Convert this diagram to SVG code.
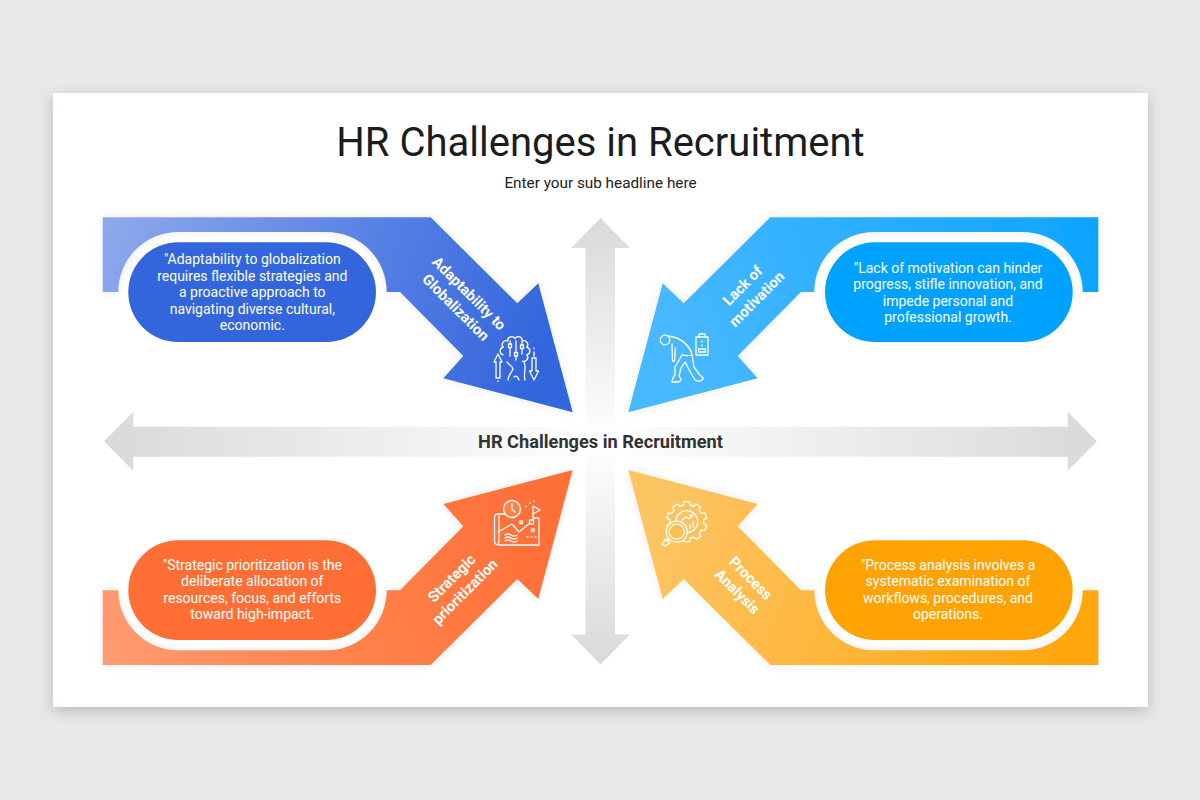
<svg xmlns="http://www.w3.org/2000/svg" width="1200" height="800" viewBox="0 0 1200 800">
<style>
text{font-family:Roboto,"Liberation Sans",Arial,sans-serif;text-anchor:middle}
.title{font-size:40px;fill:#1c1c1e}
.sub{font-size:15.300px;fill:#222}
.center{font-size:18.200px;font-weight:700;fill:#333}
.body{font-size:14px;fill:#fff}
.lab{font-size:14.800px;font-weight:700;fill:#fff}
.ic{fill:none;stroke:#fff;stroke-width:1.3;stroke-linecap:round;stroke-linejoin:round}
</style>
<defs>
<filter id="card" x="-5%" y="-5%" width="110%" height="112%"><feDropShadow dx="0" dy="4" stdDeviation="7" flood-color="#000" flood-opacity=".2"/></filter>
<filter id="soft" x="-10%" y="-10%" width="120%" height="120%"><feDropShadow dx="0" dy="0" stdDeviation="5" flood-color="#000" flood-opacity=".08"/></filter>
<linearGradient id="gBlue" gradientUnits="userSpaceOnUse" x1="102" y1="217" x2="530" y2="380"><stop offset="0" stop-color="#8fa9ec"/><stop offset=".55" stop-color="#5a82e4"/><stop offset="1" stop-color="#3366dd"/></linearGradient>
<linearGradient id="gSky" gradientUnits="userSpaceOnUse" x1="102" y1="217" x2="530" y2="380"><stop offset="0" stop-color="#0ca4ff"/><stop offset="1" stop-color="#4ab9ff"/></linearGradient>
<linearGradient id="gOrange" gradientUnits="userSpaceOnUse" x1="102" y1="217" x2="530" y2="380"><stop offset="0" stop-color="#ff9c72"/><stop offset=".6" stop-color="#ff7f48"/><stop offset="1" stop-color="#ff7038"/></linearGradient>
<linearGradient id="gYellow" gradientUnits="userSpaceOnUse" x1="102" y1="217" x2="530" y2="380"><stop offset="0" stop-color="#ffa408"/><stop offset="1" stop-color="#fdc462"/></linearGradient>
<linearGradient id="gH" x1="0" x2="1" y1="0" y2="0"><stop offset="0" stop-color="#d9d9d9"/><stop offset=".5" stop-color="#fff"/><stop offset="1" stop-color="#d9d9d9"/></linearGradient>
<linearGradient id="gV" x1="0" x2="0" y1="0" y2="1"><stop offset="0" stop-color="#d9d9d9"/><stop offset=".5" stop-color="#fff"/><stop offset="1" stop-color="#d9d9d9"/></linearGradient>
<path id="arrow" d="M102.700 217.300H430.700L517.300 303.300L538.300 283.300L572.700 412.300L443.300 378.300L463.300 356L400 292H386.700A60 60 0 0 0 326.700 232H178.300A60 60 0 0 0 118.300 292H102.700Z"/>
<path id="tooth" d="M-3.500-16.500L-2.800-20H2.800L3.500-16.500A16.870 16.870 0 0 1 6.870-15.410"/>
<path id="bump" d="M0-12.500A4 4 0 0 1 7.350-10.100"/>
</defs>
<rect width="1200" height="800" fill="#e9e7e8"/>
<rect x="53" y="93" width="1095" height="614" fill="#fff" filter="url(#card)"/>
<text class="title" x="600.500" y="156">HR Challenges in Recruitment</text>
<text class="sub" x="600.500" y="187.500">Enter your sub headline here</text>

<g id="connectors">
<path fill="url(#gH)" d="M104 441.200L133.300 411.700V426.700H1067.700V411.700L1097 441.200L1067.700 470.700V456.700H133.300V470.700Z"/>
<path fill="url(#gV)" d="M600.500 218L630 248H615V634.400H630L600.500 664.400L571 634.400H585.500V248H571Z"/>
</g>
<text class="center" x="600.500" y="447.500">HR Challenges in Recruitment</text>

<g id="node-adaptability">
<g filter="url(#soft)"><use href="#arrow" fill="url(#gBlue)"/></g>
<rect x="128.300" y="242.300" width="247.700" height="99.700" rx="49.800" fill="#3366dd"/>
<text class="body"><tspan x="252.300" y="264">"Adaptability to globalization</tspan><tspan x="252.300" y="280.500">requires flexible strategies and</tspan><tspan x="252.300" y="297">a proactive approach to</tspan><tspan x="252.300" y="313.500">navigating diverse cultural,</tspan><tspan x="252.300" y="330">economic.</tspan></text>
<text class="lab" transform="translate(469 293.500) rotate(45)" y="5">Adaptability to</text>
<text class="lab" transform="translate(455.700 307.500) rotate(45)" y="5">Globalization</text>
<g class="ic" id="icon-adapt">
<g transform="translate(515 351)"><use href="#bump"/><use href="#bump" transform="rotate(36)"/><use href="#bump" transform="rotate(72)"/><use href="#bump" transform="rotate(108)"/><use href="#bump" transform="rotate(252)"/><use href="#bump" transform="rotate(288)"/><use href="#bump" transform="rotate(324)"/></g>
<path d="M510 341V344M516 341V352M522 341V345M510 348V356M516 356V360M522 349V354"/>
<rect x="508.500" y="344" width="3" height="3.500"/><rect x="514.500" y="352.500" width="3" height="3.500"/><rect x="520.500" y="345" width="3" height="3.500"/>
<path d="M507 362C510 366 512 365 513 369C511 374 508 375 508 380M524 362C527 368 523 373 525 380M514 377C516 375 518 377 519 380"/>
<path d="M494 362L498 354L502 362H500V378H496V362ZM498 381V381.500"/>
<path d="M534 348V348.500M534 352V356M532 358V371H529.500L534 380L538.500 371H536V358Z"/>
</g>
</g>

<g id="node-motivation">
<g filter="url(#soft)"><use href="#arrow" fill="url(#gSky)" transform="matrix(-1 0 0 1 1201 0)"/></g>
<rect x="825" y="242.300" width="247.700" height="99.700" rx="49.800" fill="#00a2ff"/>
<text class="body"><tspan x="948" y="272.500">"Lack of motivation can hinder</tspan><tspan x="948" y="289">progress, stifle innovation, and</tspan><tspan x="948" y="305.500">impede personal and</tspan><tspan x="948" y="322">professional growth.</tspan></text>
<text class="lab" transform="translate(742.700 285.700) rotate(-45)" y="5">Lack of</text>
<text class="lab" transform="translate(756.700 299) rotate(-45)" y="5">motivation</text>
<g class="ic" id="icon-man">
<circle cx="665" cy="340" r="4.800"/>
<path d="M668 336C680 337 690 345 692 355L694 367L699 374L703 378C703 381 698 382 695 380L692 375L685 362L681 368L679 376L681 379C681 381 679 382 677 382H672C672 378 675 376 675 374L675 367L682 355"/>
<path d="M672 344L672.500 361H674.500L675.500 348M682 355C686 356 689 356 692 355"/>
<rect x="696" y="337" width="12" height="18"/><path d="M699 337V334H705V337M702 341V342M702 345V346"/><rect x="698.500" y="349" width="7" height="3"/>
</g>
</g>

<g id="node-strategic">
<g filter="url(#soft)"><use href="#arrow" fill="url(#gOrange)" transform="matrix(1 0 0 -1 0 882.300)"/></g>
<rect x="128.300" y="540.300" width="247.700" height="99.700" rx="49.800" fill="#ff6f35"/>
<text class="body"><tspan x="252.300" y="569.500">"Strategic prioritization is the</tspan><tspan x="252.300" y="586">deliberate allocation of</tspan><tspan x="252.300" y="602.500">resources, focus, and efforts</tspan><tspan x="252.300" y="619">toward high-impact.</tspan></text>
<text class="lab" transform="translate(451.700 578.300) rotate(-45)" y="5">Strategic</text>
<text class="lab" transform="translate(465 591.700) rotate(-45)" y="5">prioritization</text>
<g class="ic" id="icon-map">
<path d="M504.500 514H498C495 514 494.500 516 494.500 518V541C494.500 544 497 545 499 545H539V518H534M499 545C497 545 499 543 499 541V516"/>
<circle cx="512" cy="509" r="8.500" fill="#ff8348"/><path d="M512 504V509.500L515 512"/>
<path d="M533 520V506L540 510L533 514M530 503V503.500M526 506V506.500M534 501V501.500"/>
<path d="M498 532L512 524L519 532L530 523"/><rect x="529.500" y="520" width="4" height="4"/>
<path d="M505 535Q508 533 511 535T517 535M505 538Q508 536 511 538T517 538M505 541Q508 539 511 541T517 541M527 537H528M531 537H532M535 537H536"/>
<rect x="520" y="521" width="2.500" height="2.500"/><rect x="531.500" y="529" width="2.500" height="2.500"/>
</g>
</g>

<g id="node-process">
<g filter="url(#soft)"><use href="#arrow" fill="url(#gYellow)" transform="matrix(-1 0 0 -1 1201 882.300)"/></g>
<rect x="825" y="540.300" width="247.700" height="99.700" rx="49.800" fill="#ffa305"/>
<text class="body"><tspan x="948" y="569.500">"Process analysis involves a</tspan><tspan x="948" y="586">systematic examination of</tspan><tspan x="948" y="602.500">workflows, procedures, and</tspan><tspan x="948" y="619">operations.</tspan></text>
<text class="lab" transform="translate(750.700 578.300) rotate(45)" y="5">Process</text>
<text class="lab" transform="translate(737.300 591.700) rotate(45)" y="5">Analysis</text>
<g class="ic" id="icon-gear">
<g transform="translate(686.700 521.700)"><use href="#tooth"/><use href="#tooth" transform="rotate(36)"/><use href="#tooth" transform="rotate(72)"/><use href="#tooth" transform="rotate(108)"/><use href="#tooth" transform="rotate(144)"/><use href="#tooth" transform="rotate(180)"/><use href="#tooth" transform="rotate(216)"/><use href="#tooth" transform="rotate(252)"/><use href="#tooth" transform="rotate(288)"/><use href="#tooth" transform="rotate(324)"/></g>
<circle cx="686.700" cy="521.700" r="11"/>
<circle cx="676.700" cy="531.700" r="10.500" fill="#fdbd50"/><circle cx="676.700" cy="531.700" r="7.500"/>
<path d="M669 539L667 541M666 539L670 543L665 546L662 544Z"/>
<path d="M682 520L686 517L689 519L692 515M689.500 515H692V517.500M690 525V529M693 522V527"/>
</g>
</g>
</svg>
